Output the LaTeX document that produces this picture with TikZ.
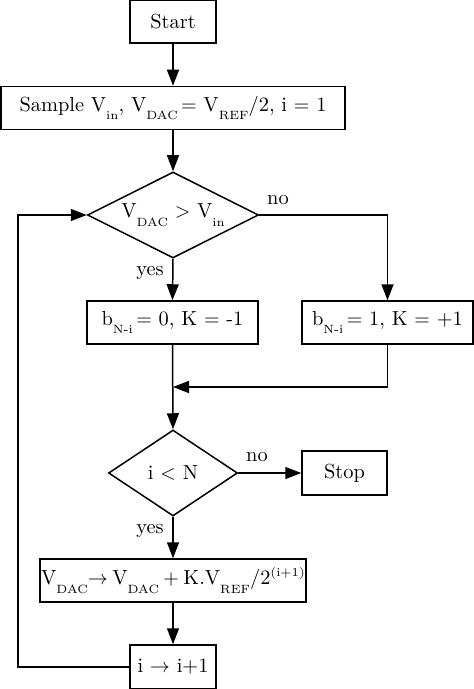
\documentclass[tikz,border=0pt]{standalone}
\usepackage{amsmath}
\usetikzlibrary{shapes.geometric,arrows.meta}
\newcommand{\lsub}[1]{\raisebox{-4.4pt}{\fontsize{6}{7}\selectfont #1}}
\newcommand{\hsup}[1]{\raisebox{4.4pt}{\fontsize{6}{7}\selectfont #1}}

\begin{document}
\begin{tikzpicture}[x=0.5pt,y=-0.5pt,line width=0.75pt,
    font=\fontsize{10.2}{12}\selectfont,
    box/.style={draw,rectangle,inner sep=0pt,minimum height=21.5pt},
    test/.style={draw,diamond,inner sep=0pt,aspect=2},
    flow/.style={-{Triangle[length=8pt,width=6pt]}},
    lbl/.style={inner sep=0pt}]
  \useasboundingbox (0,0) rectangle (474,689);
  % boxes and tests
  \node [box,minimum width=43pt] (start) at (173,21.5) {Start};
  \node [box,minimum width=172pt] (sample) at (173,108)
    {Sample V\lsub{in}, V\lsub{DAC}\,$=$ V\lsub{REF}/2, i $=$ 1};
  \node [test,minimum width=85.5pt,minimum height=43pt] (cmp) at (173,215)
    {V\lsub{DAC} $>$ V\lsub{in}};
  \node [box,minimum width=85.5pt] (zero) at (172.5,322.5) {b\lsub{N-i}\,$=$ 0, K $=$ -1};
  \node [box,minimum width=85.5pt] (one) at (387.5,322.5) {b\lsub{N-i}\,$=$ 1, K $=$ +1};
  \coordinate (merge) at (173,387);
  \node [test,minimum width=64.5pt,minimum height=43pt] (cnt) at (173,473) {i $<$ N};
  \node [box,minimum width=42.5pt,minimum height=22pt] (stop) at (344.5,473) {Stop};
  \node [box,minimum width=133pt] (upd) at (173,580.5)
    {\spaceskip=2.2pt V\lsub{DAC}$\rightarrow$ V\lsub{DAC} $+$ K.V\lsub{REF}/2\hsup{(i+1)}};
  \node [box,minimum width=43pt,minimum height=22pt] (incr) at (173,667) {i $\rightarrow$ i+1};
  % connectors
  \draw [flow] (start) -- (sample);
  \draw [flow] (sample) -- (cmp);
  \draw [flow] (cmp.south) -- (zero.north);
  \draw [flow] (cmp.east) -| (one.north);
  \draw [flow] (zero.south) -- (cnt.north);
  \draw [flow] (one.south) |- (merge);
  \draw [flow] (cnt.east) -- (stop.west);
  \draw [flow] (cnt.south) -- (upd.north);
  \draw [flow] (upd) -- (incr);
  \draw [flow] (incr.west) -- (18,667) |- (cmp.west);
  % labels
  \node [lbl] (no1) at (278,200) {no};
  \node [lbl] (yes1) at (150,273) {yes};
  \node [lbl] (no2) at (257,457) {no};
  \node [lbl] (yes2) at (150,531) {yes};
\end{tikzpicture}
\end{document}
